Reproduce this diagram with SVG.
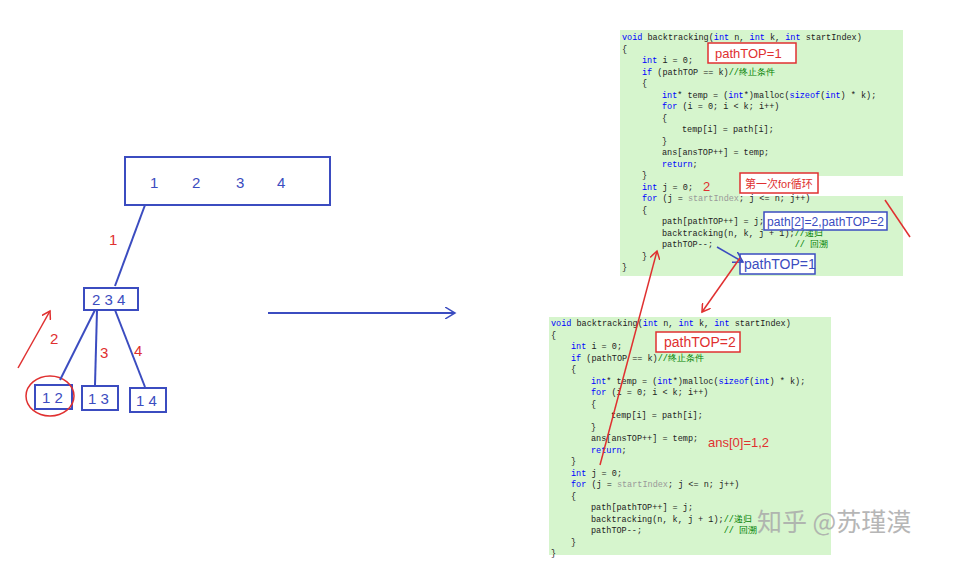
<svg xmlns="http://www.w3.org/2000/svg" width="959" height="562" viewBox="0 0 959 562">
<style>
.c{font-family:"Liberation Mono",monospace;font-size:8.5px;fill:#222;white-space:pre}
.k{fill:#0000ff}.g{fill:#008000}.s{fill:#999}
.n{font-family:"Liberation Sans",sans-serif;font-size:15px;fill:#3b4cc0}
.r{font-family:"Liberation Sans",sans-serif;font-size:15px;fill:#e03030}
.bx{fill:none;stroke:#3b4cc0;stroke-width:2}
.rl{stroke:#e03030;stroke-width:1.5;fill:none}
.bl{stroke:#3b4cc0;stroke-width:2;fill:none}
.an{font-family:"Liberation Sans","Noto Sans CJK SC",sans-serif;font-size:13px}
</style>
<defs>
<marker id="ra" markerWidth="10" markerHeight="10" refX="8" refY="5" orient="auto" markerUnits="userSpaceOnUse"><path d="M0,0 L8,5 L0,10" fill="none" stroke="#e03030" stroke-width="1.5"/></marker>
<marker id="ba" markerWidth="12" markerHeight="12" refX="10" refY="6" orient="auto" markerUnits="userSpaceOnUse"><path d="M0,0 L10,6 L0,12" fill="none" stroke="#3b4cc0" stroke-width="1.5"/></marker>
</defs>
<rect width="959" height="562" fill="#fff"/>
<g id="tree">
<g id="root"><rect class="bx" x="125" y="157" width="205" height="48"/><text class="n" x="150" y="188">1</text><text class="n" x="192" y="188">2</text><text class="n" x="236" y="188">3</text><text class="n" x="277" y="188">4</text></g>
<g id="n234"><rect class="bx" x="84" y="288" width="54" height="22"/><text class="n" x="92" y="305">2 3 4</text></g>
<g id="n12"><rect class="bx" x="35" y="385" width="37" height="24"/><text class="n" x="42" y="403">1 2</text><ellipse cx="50" cy="396" rx="24" ry="20" fill="none" stroke="#e03030" stroke-width="1.5"/></g>
<g id="n13"><rect class="bx" x="82" y="386" width="36" height="24"/><text class="n" x="88" y="404">1 3</text></g>
<g id="n14"><rect class="bx" x="130" y="388" width="36" height="24"/><text class="n" x="136" y="406">1 4</text></g>
</g>
<g id="connectors">
<line class="bl" x1="145" y1="205" x2="115" y2="286"/>
<line class="bl" x1="95" y1="310" x2="60" y2="380"/>
<line class="bl" x1="97" y1="310" x2="95" y2="385"/>
<line class="bl" x1="115" y1="310" x2="145" y2="387"/>
<text class="r" x="109" y="245">1</text><text class="r" x="50" y="344">2</text><text class="r" x="100" y="358">3</text><text class="r" x="134" y="356">4</text>
<line class="rl" x1="18" y1="368" x2="50" y2="311" marker-end="url(#ra)"/>
<line class="bl" x1="268" y1="313" x2="455" y2="313" marker-end="url(#ba)"/>
</g>
<g id="code1">
<rect x="620" y="30" width="283" height="146" fill="#ccf2c0" opacity="0.8"/>
<rect x="620" y="176" width="120" height="20" fill="#ccf2c0" opacity="0.8"/>
<rect x="620" y="196" width="283" height="80" fill="#ccf2c0" opacity="0.8"/>
<text class="c" x="622" y="40"><tspan class="k">void</tspan> backtracking(<tspan class="k">int</tspan> n, <tspan class="k">int</tspan> k, <tspan class="k">int</tspan> startIndex)</text>
<text class="c" x="622" y="51.5">{</text>
<text class="c" x="642" y="63"><tspan class="k">int</tspan> i = 0;</text>
<text class="c" x="642" y="74.5"><tspan class="k">if</tspan> (pathTOP == k)<tspan class="g">//终止条件</tspan></text>
<text class="c" x="642" y="86">{</text>
<text class="c" x="662" y="97.5"><tspan class="k">int</tspan>* temp = (<tspan class="k">int</tspan>*)malloc(<tspan class="k">sizeof</tspan>(<tspan class="k">int</tspan>) * k);</text>
<text class="c" x="662" y="109"><tspan class="k">for</tspan> (i = 0; i &lt; k; i++)</text>
<text class="c" x="662" y="120.5">{</text>
<text class="c" x="682" y="132">temp[i] = path[i];</text>
<text class="c" x="662" y="143.5">}</text>
<text class="c" x="662" y="155">ans[ansTOP++] = temp;</text>
<text class="c" x="662" y="166.5"><tspan class="k">return</tspan>;</text>
<text class="c" x="642" y="178">}</text>
<text class="c" x="642" y="189.5"><tspan class="k">int</tspan> j = 0;</text>
<text class="c" x="642" y="201"><tspan class="k">for</tspan> (j = <tspan class="s">startIndex</tspan>; j &lt;= n; j++)</text>
<text class="c" x="642" y="212.5">{</text>
<text class="c" x="662" y="224">path[pathTOP++] = j;</text>
<text class="c" x="662" y="235.5">backtracking(n, k, j + 1);<tspan class="g">//递归</tspan></text>
<text class="c" x="662" y="247">pathTOP--;                <tspan class="g">// 回溯</tspan></text>
<text class="c" x="642" y="258.5">}</text>
<text class="c" x="622" y="270">}</text>
</g>
<g id="code2">
<rect x="549" y="317" width="282" height="238" fill="#ccf2c0" opacity="0.8"/>
<text class="c" x="551" y="326"><tspan class="k">void</tspan> backtracking(<tspan class="k">int</tspan> n, <tspan class="k">int</tspan> k, <tspan class="k">int</tspan> startIndex)</text>
<text class="c" x="551" y="337.5">{</text>
<text class="c" x="571" y="349"><tspan class="k">int</tspan> i = 0;</text>
<text class="c" x="571" y="360.5"><tspan class="k">if</tspan> (pathTOP == k)<tspan class="g">//终止条件</tspan></text>
<text class="c" x="571" y="372">{</text>
<text class="c" x="591" y="383.5"><tspan class="k">int</tspan>* temp = (<tspan class="k">int</tspan>*)malloc(<tspan class="k">sizeof</tspan>(<tspan class="k">int</tspan>) * k);</text>
<text class="c" x="591" y="395"><tspan class="k">for</tspan> (i = 0; i &lt; k; i++)</text>
<text class="c" x="591" y="406.5">{</text>
<text class="c" x="611" y="418">temp[i] = path[i];</text>
<text class="c" x="591" y="429.5">}</text>
<text class="c" x="591" y="441">ans[ansTOP++] = temp;</text>
<text class="c" x="591" y="452.5"><tspan class="k">return</tspan>;</text>
<text class="c" x="571" y="464">}</text>
<text class="c" x="571" y="475.5"><tspan class="k">int</tspan> j = 0;</text>
<text class="c" x="571" y="487"><tspan class="k">for</tspan> (j = <tspan class="s">startIndex</tspan>; j &lt;= n; j++)</text>
<text class="c" x="571" y="498.5">{</text>
<text class="c" x="591" y="510">path[pathTOP++] = j;</text>
<text class="c" x="591" y="521.5">backtracking(n, k, j + 1);<tspan class="g">//递归</tspan></text>
<text class="c" x="591" y="533">pathTOP--;                <tspan class="g">// 回溯</tspan></text>
<text class="c" x="571" y="544.5">}</text>
<text class="c" x="551" y="556">}</text>
</g>
<g id="annotations">
<rect x="708" y="43" width="88" height="20" fill="#fff" stroke="#e03030" stroke-width="1.5"/>
<text class="an" x="715" y="58" fill="#e03030">pathTOP=1</text>
<text class="an" x="703" y="191" fill="#e03030">2</text>
<rect x="740" y="173" width="78" height="20" fill="#fff" stroke="#e03030" stroke-width="1.5"/>
<text class="an" x="745" y="188" fill="#e03030" style="font-size:11px">第一次for循环</text>
<rect x="764" y="212" width="123" height="18" fill="#fff" stroke="#3b4cc0" stroke-width="1.5"/>
<text class="an" x="767" y="226" fill="#3b4cc0" style="font-size:12px" textLength="117">path[2]=2,pathTOP=2</text>
<rect x="740" y="254" width="75" height="20" fill="#fff" stroke="#3b4cc0" stroke-width="1.5"/>
<text class="an" x="744" y="269" fill="#3b4cc0" style="font-size:14px">pathTOP=1</text>
<line x1="717" y1="247" x2="743" y2="262" stroke="#3b4cc0" stroke-width="1.5" marker-end="url(#ba)"/>
<rect x="656" y="332" width="84" height="20" fill="#fff" stroke="#e03030" stroke-width="1.5"/>
<text class="an" x="664" y="347" fill="#e03030" style="font-size:14px">pathTOP=2</text>
<text class="an" x="708" y="447" fill="#e03030">ans[0]=1,2</text>
<line class="rl" x1="600" y1="465" x2="657" y2="251" marker-end="url(#ra)"/>
<line class="rl" x1="740" y1="258" x2="702" y2="312" marker-end="url(#ra)"/>
<line class="rl" x1="885" y1="200" x2="910" y2="237"/>
<text x="757" y="531" font-family="Noto Sans CJK SC,sans-serif" font-size="25" fill="#aaa" opacity="0.85">知乎 @苏瑾漠</text>
</g>
</svg>
